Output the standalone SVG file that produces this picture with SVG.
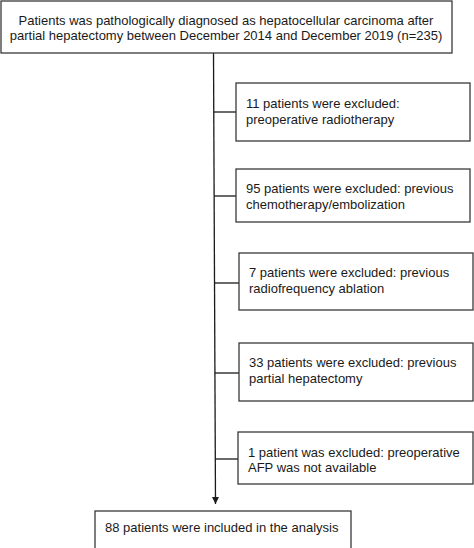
<svg xmlns="http://www.w3.org/2000/svg" width="474" height="548" viewBox="0 0 474 548">
<defs>
<style>
.box{fill:#fff;stroke:#3a3a3a;stroke-width:1.3}
.t{font-family:"Liberation Sans",Arial,sans-serif;font-size:13px;fill:#1a1a1a}
.c{text-anchor:middle}
.ln{stroke:#1a1a1a;stroke-width:1.3;fill:none}
</style>
<marker id="ah" viewBox="0 0 10 10" refX="10" refY="5" markerWidth="7" markerHeight="7" markerUnits="userSpaceOnUse" orient="auto">
<path d="M0,0 L10,5 L0,10 z" fill="#1a1a1a"/>
</marker>
</defs>
<rect width="474" height="548" fill="#fff"/>
<g id="connectors">
<line class="ln" x1="213.5" y1="53" x2="215.5" y2="504" marker-end="url(#ah)"/>
<line class="ln" x1="213.7" y1="112" x2="236" y2="112"/>
<line class="ln" x1="214" y1="196" x2="236" y2="196"/>
<line class="ln" x1="214.5" y1="283" x2="239" y2="283"/>
<line class="ln" x1="215" y1="373" x2="239" y2="373"/>
<line class="ln" x1="215.2" y1="459" x2="238" y2="459"/>
</g>
<g id="n0">
<rect class="box" x="1" y="1" width="451" height="52"/>
<text class="t c" x="226" y="24.5">Patients was pathologically diagnosed as hepatocellular carcinoma after</text>
<text class="t c" x="226" y="40">partial hepatectomy between December 2014 and December 2019 (n=235)</text>
</g>
<g id="n1">
<rect class="box" x="236" y="83" width="234" height="58"/>
<text class="t" x="246" y="107.5">11 patients were excluded:</text>
<text class="t" x="246" y="124">preoperative radiotherapy</text>
</g>
<g id="n2">
<rect class="box" x="236" y="169" width="234" height="53"/>
<text class="t" x="246" y="192.5">95 patients were excluded: previous</text>
<text class="t" x="246" y="209">chemotherapy/embolization</text>
</g>
<g id="n3">
<rect class="box" x="239" y="253" width="234" height="57"/>
<text class="t" x="249" y="276.5">7 patients were excluded: previous</text>
<text class="t" x="249" y="293">radiofrequency ablation</text>
</g>
<g id="n4">
<rect class="box" x="239" y="343" width="234" height="58"/>
<text class="t" x="249" y="366.5">33 patients were excluded: previous</text>
<text class="t" x="249" y="383">partial hepatectomy</text>
</g>
<g id="n5">
<rect class="box" x="238" y="432" width="235" height="52"/>
<text class="t" x="248" y="456.5">1 patient was excluded: preoperative</text>
<text class="t" x="248" y="472">AFP was not available</text>
</g>
<g id="n6">
<rect class="box" x="95" y="511" width="256" height="40"/>
<text class="t" x="105" y="531.5">88 patients were included in the analysis</text>
</g>
</svg>
